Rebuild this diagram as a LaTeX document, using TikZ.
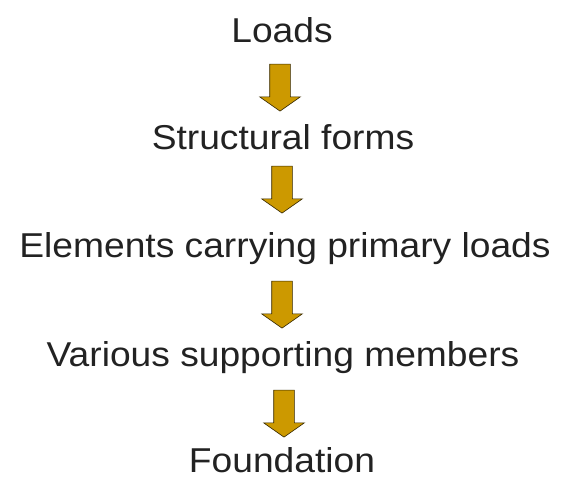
\documentclass[tikz,border=0pt]{standalone}
\usepackage{fontspec}
\setmainfont{Liberation Sans}
\usetikzlibrary{shapes.arrows}
\definecolor{arrowgold}{HTML}{CC9900}
\definecolor{textgray}{HTML}{222222}
\newcommand{\widetext}[1]{\scalebox{1.078}[1]{#1}}
\begin{document}
\begin{tikzpicture}[x=1pt, y=-1pt,
    step label/.style={anchor=base, text=textgray, inner sep=0pt,
        font=\fontsize{34.5}{41}\selectfont},
    down arrow/.style={single arrow, rotate=-90, draw=black!75!arrowgold,
        fill=arrowgold, line width=0.6pt, inner xsep=0pt, inner ysep=10pt,
        minimum height=47pt, single arrow head extend=10pt,
        single arrow tip angle=110}]
    \useasboundingbox (0,0) rectangle (569,501);

    % de stappen van boven naar beneden
    \node[step label] (loads)      at (282, 42)  {\widetext{Loads}};
    \node[step label] (forms)      at (283, 149) {\widetext{Structural forms}};
    \node[step label] (elements)   at (285, 257) {\widetext{Elements carrying primary loads}};
    \node[step label] (members)    at (283, 366) {\widetext{Various supporting members}};
    \node[step label] (foundation) at (282, 472) {\widetext{Foundation}};

    % pijlen ertussen
    \node[down arrow] (arrow1) at (280, 84)  {};
    \node[down arrow] (arrow2) at (282, 186) {};
    \node[down arrow] (arrow3) at (282, 301) {};
    \node[down arrow] (arrow4) at (284, 410) {};
\end{tikzpicture}
\end{document}
